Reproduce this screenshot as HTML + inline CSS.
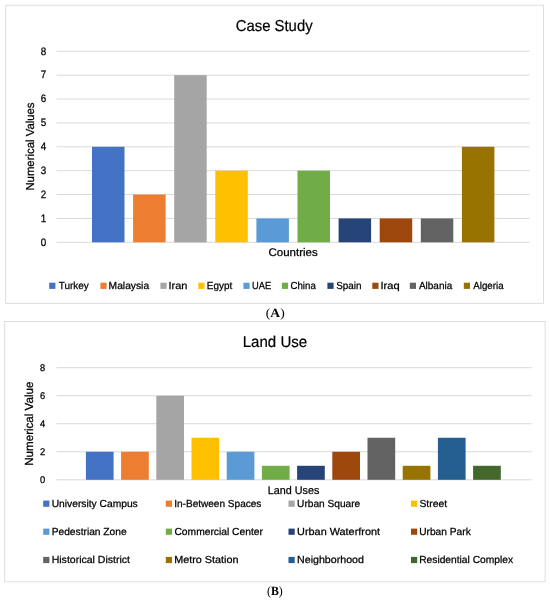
<!DOCTYPE html>
<html lang="en"><head><meta charset="utf-8"><title>Case Study / Land Use</title>
<style>html,body{margin:0;padding:0;background:#fff}svg{display:block}text{font-family:"Liberation Sans", sans-serif;fill:#000;text-rendering:geometricPrecision}.s{font-family:"Liberation Serif", serif}.b{stroke:#000;stroke-width:0.25}.t{stroke:#000;stroke-width:0.2}</style>
</head><body>
<svg width="550" height="600" viewBox="0 0 550 600">
<rect width="550" height="600" fill="#fff"/>
<rect x="5.7" y="5.2" width="537.8" height="298.15" fill="#fff" stroke="#d9d9d9" stroke-width="0.85"/>
<text class="t" x="235.75" y="30.8" font-size="15.8" textLength="76.85" lengthAdjust="spacingAndGlyphs">Case Study</text>
<line x1="56.5" x2="529.5" y1="242.30" y2="242.30" stroke="#d9d9d9" stroke-width="1"/>
<text class="b" x="40.65" y="245.60" font-size="10.8" textLength="5.5" lengthAdjust="spacingAndGlyphs">0</text>
<line x1="56.5" x2="529.5" y1="218.43" y2="218.43" stroke="#d9d9d9" stroke-width="1"/>
<text class="b" x="40.65" y="221.73" font-size="10.8" textLength="5.5" lengthAdjust="spacingAndGlyphs">1</text>
<line x1="56.5" x2="529.5" y1="194.55" y2="194.55" stroke="#d9d9d9" stroke-width="1"/>
<text class="b" x="40.65" y="197.85" font-size="10.8" textLength="5.5" lengthAdjust="spacingAndGlyphs">2</text>
<line x1="56.5" x2="529.5" y1="170.68" y2="170.68" stroke="#d9d9d9" stroke-width="1"/>
<text class="b" x="40.65" y="173.98" font-size="10.8" textLength="5.5" lengthAdjust="spacingAndGlyphs">3</text>
<line x1="56.5" x2="529.5" y1="146.80" y2="146.80" stroke="#d9d9d9" stroke-width="1"/>
<text class="b" x="40.65" y="150.10" font-size="10.8" textLength="5.5" lengthAdjust="spacingAndGlyphs">4</text>
<line x1="56.5" x2="529.5" y1="122.93" y2="122.93" stroke="#d9d9d9" stroke-width="1"/>
<text class="b" x="40.65" y="126.23" font-size="10.8" textLength="5.5" lengthAdjust="spacingAndGlyphs">5</text>
<line x1="56.5" x2="529.5" y1="99.05" y2="99.05" stroke="#d9d9d9" stroke-width="1"/>
<text class="b" x="40.65" y="102.35" font-size="10.8" textLength="5.5" lengthAdjust="spacingAndGlyphs">6</text>
<line x1="56.5" x2="529.5" y1="75.18" y2="75.18" stroke="#d9d9d9" stroke-width="1"/>
<text class="b" x="40.65" y="78.48" font-size="10.8" textLength="5.5" lengthAdjust="spacingAndGlyphs">7</text>
<line x1="56.5" x2="529.5" y1="51.30" y2="51.30" stroke="#d9d9d9" stroke-width="1"/>
<text class="b" x="40.65" y="54.60" font-size="10.8" textLength="5.5" lengthAdjust="spacingAndGlyphs">8</text>
<rect x="92.00" y="146.80" width="32.5" height="95.50" fill="#4472c4"/>
<rect x="133.10" y="194.55" width="32.5" height="47.75" fill="#ed7d31"/>
<rect x="174.20" y="75.18" width="32.5" height="167.12" fill="#a5a5a5"/>
<rect x="215.30" y="170.68" width="32.5" height="71.62" fill="#ffc000"/>
<rect x="256.40" y="218.43" width="32.5" height="23.88" fill="#5b9bd5"/>
<rect x="297.50" y="170.68" width="32.5" height="71.62" fill="#70ad47"/>
<rect x="338.60" y="218.43" width="32.5" height="23.88" fill="#264478"/>
<rect x="379.70" y="218.43" width="32.5" height="23.88" fill="#9e480e"/>
<rect x="420.80" y="218.43" width="32.5" height="23.88" fill="#636363"/>
<rect x="461.90" y="146.80" width="32.5" height="95.50" fill="#997300"/>
<text class="b" x="268.45" y="256.0" font-size="11.1" textLength="49.25" lengthAdjust="spacingAndGlyphs">Countries</text>
<text class="b" transform="translate(33.8,146.55) rotate(-90)" font-size="11.6" text-anchor="middle" textLength="88.15" lengthAdjust="spacingAndGlyphs">Numerical Values</text>
<rect x="49.2" y="282.7" width="6.2" height="6.2" fill="#4472c4"/>
<text class="b" x="58.70" y="289.1" font-size="10.2" textLength="30.05" lengthAdjust="spacingAndGlyphs">Turkey</text>
<rect x="100.4" y="282.7" width="6.2" height="6.2" fill="#ed7d31"/>
<text class="b" x="108.60" y="289.1" font-size="10.2" textLength="40.50" lengthAdjust="spacingAndGlyphs">Malaysia</text>
<rect x="160.4" y="282.7" width="6.2" height="6.2" fill="#a5a5a5"/>
<text class="b" x="168.50" y="289.1" font-size="10.2" textLength="19.00" lengthAdjust="spacingAndGlyphs">Iran</text>
<rect x="198.3" y="282.7" width="6.2" height="6.2" fill="#ffc000"/>
<text class="b" x="206.75" y="289.1" font-size="10.2" textLength="25.46" lengthAdjust="spacingAndGlyphs">Egypt</text>
<rect x="243.4" y="282.7" width="6.2" height="6.2" fill="#5b9bd5"/>
<text class="b" x="252.00" y="289.1" font-size="10.2" textLength="19.12" lengthAdjust="spacingAndGlyphs">UAE</text>
<rect x="281.9" y="282.7" width="6.2" height="6.2" fill="#70ad47"/>
<text class="b" x="290.45" y="289.1" font-size="10.2" textLength="25.35" lengthAdjust="spacingAndGlyphs">China</text>
<rect x="327.4" y="282.7" width="6.2" height="6.2" fill="#264478"/>
<text class="b" x="336.25" y="289.1" font-size="10.2" textLength="25.30" lengthAdjust="spacingAndGlyphs">Spain</text>
<rect x="372.3" y="282.7" width="6.2" height="6.2" fill="#9e480e"/>
<text class="b" x="380.45" y="289.1" font-size="10.2" textLength="19.12" lengthAdjust="spacingAndGlyphs">Iraq</text>
<rect x="409.8" y="282.7" width="6.2" height="6.2" fill="#636363"/>
<text class="b" x="418.95" y="289.1" font-size="10.2" textLength="33.31" lengthAdjust="spacingAndGlyphs">Albania</text>
<rect x="463.8" y="282.7" width="6.2" height="6.2" fill="#997300"/>
<text class="b" x="473.30" y="289.1" font-size="10.2" textLength="30.31" lengthAdjust="spacingAndGlyphs">Algeria</text>
<text class="s" x="265.85" y="317.3" font-size="12.5" textLength="18.89" lengthAdjust="spacingAndGlyphs">(<tspan font-weight="bold">A</tspan>)</text>
<rect x="4.7" y="321.5" width="540.4" height="260.3" fill="#fff" stroke="#d9d9d9" stroke-width="0.85"/>
<text class="t" x="242.70" y="347.2" font-size="15.6" textLength="64.49" lengthAdjust="spacingAndGlyphs">Land Use</text>
<line x1="56.5" x2="531.6" y1="479.80" y2="479.80" stroke="#d9d9d9" stroke-width="1"/>
<text class="b" x="39.90" y="482.90" font-size="9.7" textLength="5.2" lengthAdjust="spacingAndGlyphs">0</text>
<line x1="56.5" x2="531.6" y1="451.77" y2="451.77" stroke="#d9d9d9" stroke-width="1"/>
<text class="b" x="39.90" y="454.88" font-size="9.7" textLength="5.2" lengthAdjust="spacingAndGlyphs">2</text>
<line x1="56.5" x2="531.6" y1="423.75" y2="423.75" stroke="#d9d9d9" stroke-width="1"/>
<text class="b" x="39.90" y="426.85" font-size="9.7" textLength="5.2" lengthAdjust="spacingAndGlyphs">4</text>
<line x1="56.5" x2="531.6" y1="395.73" y2="395.73" stroke="#d9d9d9" stroke-width="1"/>
<text class="b" x="39.90" y="398.83" font-size="9.7" textLength="5.2" lengthAdjust="spacingAndGlyphs">6</text>
<line x1="56.5" x2="531.6" y1="367.70" y2="367.70" stroke="#d9d9d9" stroke-width="1"/>
<text class="b" x="39.90" y="370.80" font-size="9.7" textLength="5.2" lengthAdjust="spacingAndGlyphs">8</text>
<rect x="85.90" y="451.77" width="27.7" height="28.03" fill="#4472c4"/>
<rect x="121.10" y="451.77" width="27.7" height="28.03" fill="#ed7d31"/>
<rect x="156.30" y="395.73" width="27.7" height="84.08" fill="#a5a5a5"/>
<rect x="191.50" y="437.76" width="27.7" height="42.04" fill="#ffc000"/>
<rect x="226.70" y="451.77" width="27.7" height="28.03" fill="#5b9bd5"/>
<rect x="261.90" y="465.79" width="27.7" height="14.01" fill="#70ad47"/>
<rect x="297.10" y="465.79" width="27.7" height="14.01" fill="#264478"/>
<rect x="332.30" y="451.77" width="27.7" height="28.03" fill="#9e480e"/>
<rect x="367.50" y="437.76" width="27.7" height="42.04" fill="#636363"/>
<rect x="402.70" y="465.79" width="27.7" height="14.01" fill="#997300"/>
<rect x="437.90" y="437.76" width="27.7" height="42.04" fill="#255e91"/>
<rect x="473.10" y="465.79" width="27.7" height="14.01" fill="#43682b"/>
<text class="b" x="267.75" y="493.7" font-size="11.1" textLength="51.61" lengthAdjust="spacingAndGlyphs">Land Uses</text>
<text class="b" transform="translate(32.7,423.7) rotate(-90)" font-size="11.7" text-anchor="middle" textLength="84.1" lengthAdjust="spacingAndGlyphs">Numerical Value</text>
<rect x="43.2" y="500.60" width="6.2" height="6.2" fill="#4472c4"/>
<text class="b" x="51.70" y="507.1" font-size="10.2" textLength="86.05" lengthAdjust="spacingAndGlyphs">University Campus</text>
<rect x="165.8" y="500.60" width="6.2" height="6.2" fill="#ed7d31"/>
<text class="b" x="174.20" y="507.1" font-size="10.2" textLength="87.20" lengthAdjust="spacingAndGlyphs">In-Between Spaces</text>
<rect x="288.5" y="500.60" width="6.2" height="6.2" fill="#a5a5a5"/>
<text class="b" x="297.10" y="507.1" font-size="10.2" textLength="63.15" lengthAdjust="spacingAndGlyphs">Urban Square</text>
<rect x="411.0" y="500.60" width="6.2" height="6.2" fill="#ffc000"/>
<text class="b" x="419.45" y="507.1" font-size="10.2" textLength="27.74" lengthAdjust="spacingAndGlyphs">Street</text>
<rect x="43.2" y="528.60" width="6.2" height="6.2" fill="#5b9bd5"/>
<text class="b" x="51.70" y="535.1" font-size="10.2" textLength="74.95" lengthAdjust="spacingAndGlyphs">Pedestrian Zone</text>
<rect x="165.8" y="528.60" width="6.2" height="6.2" fill="#70ad47"/>
<text class="b" x="174.45" y="535.1" font-size="10.2" textLength="88.50" lengthAdjust="spacingAndGlyphs">Commercial Center</text>
<rect x="288.5" y="528.60" width="6.2" height="6.2" fill="#264478"/>
<text class="b" x="297.10" y="535.1" font-size="10.2" textLength="82.95" lengthAdjust="spacingAndGlyphs">Urban Waterfront</text>
<rect x="411.0" y="528.60" width="6.2" height="6.2" fill="#9e480e"/>
<text class="b" x="419.20" y="535.1" font-size="10.2" textLength="51.55" lengthAdjust="spacingAndGlyphs">Urban Park</text>
<rect x="43.2" y="556.90" width="6.2" height="6.2" fill="#636363"/>
<text class="b" x="51.70" y="563.4" font-size="10.2" textLength="78.35" lengthAdjust="spacingAndGlyphs">Historical District</text>
<rect x="165.8" y="556.90" width="6.2" height="6.2" fill="#997300"/>
<text class="b" x="174.20" y="563.4" font-size="10.2" textLength="64.36" lengthAdjust="spacingAndGlyphs">Metro Station</text>
<rect x="288.5" y="556.90" width="6.2" height="6.2" fill="#255e91"/>
<text class="b" x="297.10" y="563.4" font-size="10.2" textLength="66.81" lengthAdjust="spacingAndGlyphs">Neighborhood</text>
<rect x="411.0" y="556.90" width="6.2" height="6.2" fill="#43682b"/>
<text class="b" x="419.20" y="563.4" font-size="10.2" textLength="93.85" lengthAdjust="spacingAndGlyphs">Residential Complex</text>
<text class="s" x="267.05" y="594.9" font-size="12.5" textLength="15.74" lengthAdjust="spacingAndGlyphs">(<tspan font-weight="bold">B</tspan>)</text>
</svg></body></html>
